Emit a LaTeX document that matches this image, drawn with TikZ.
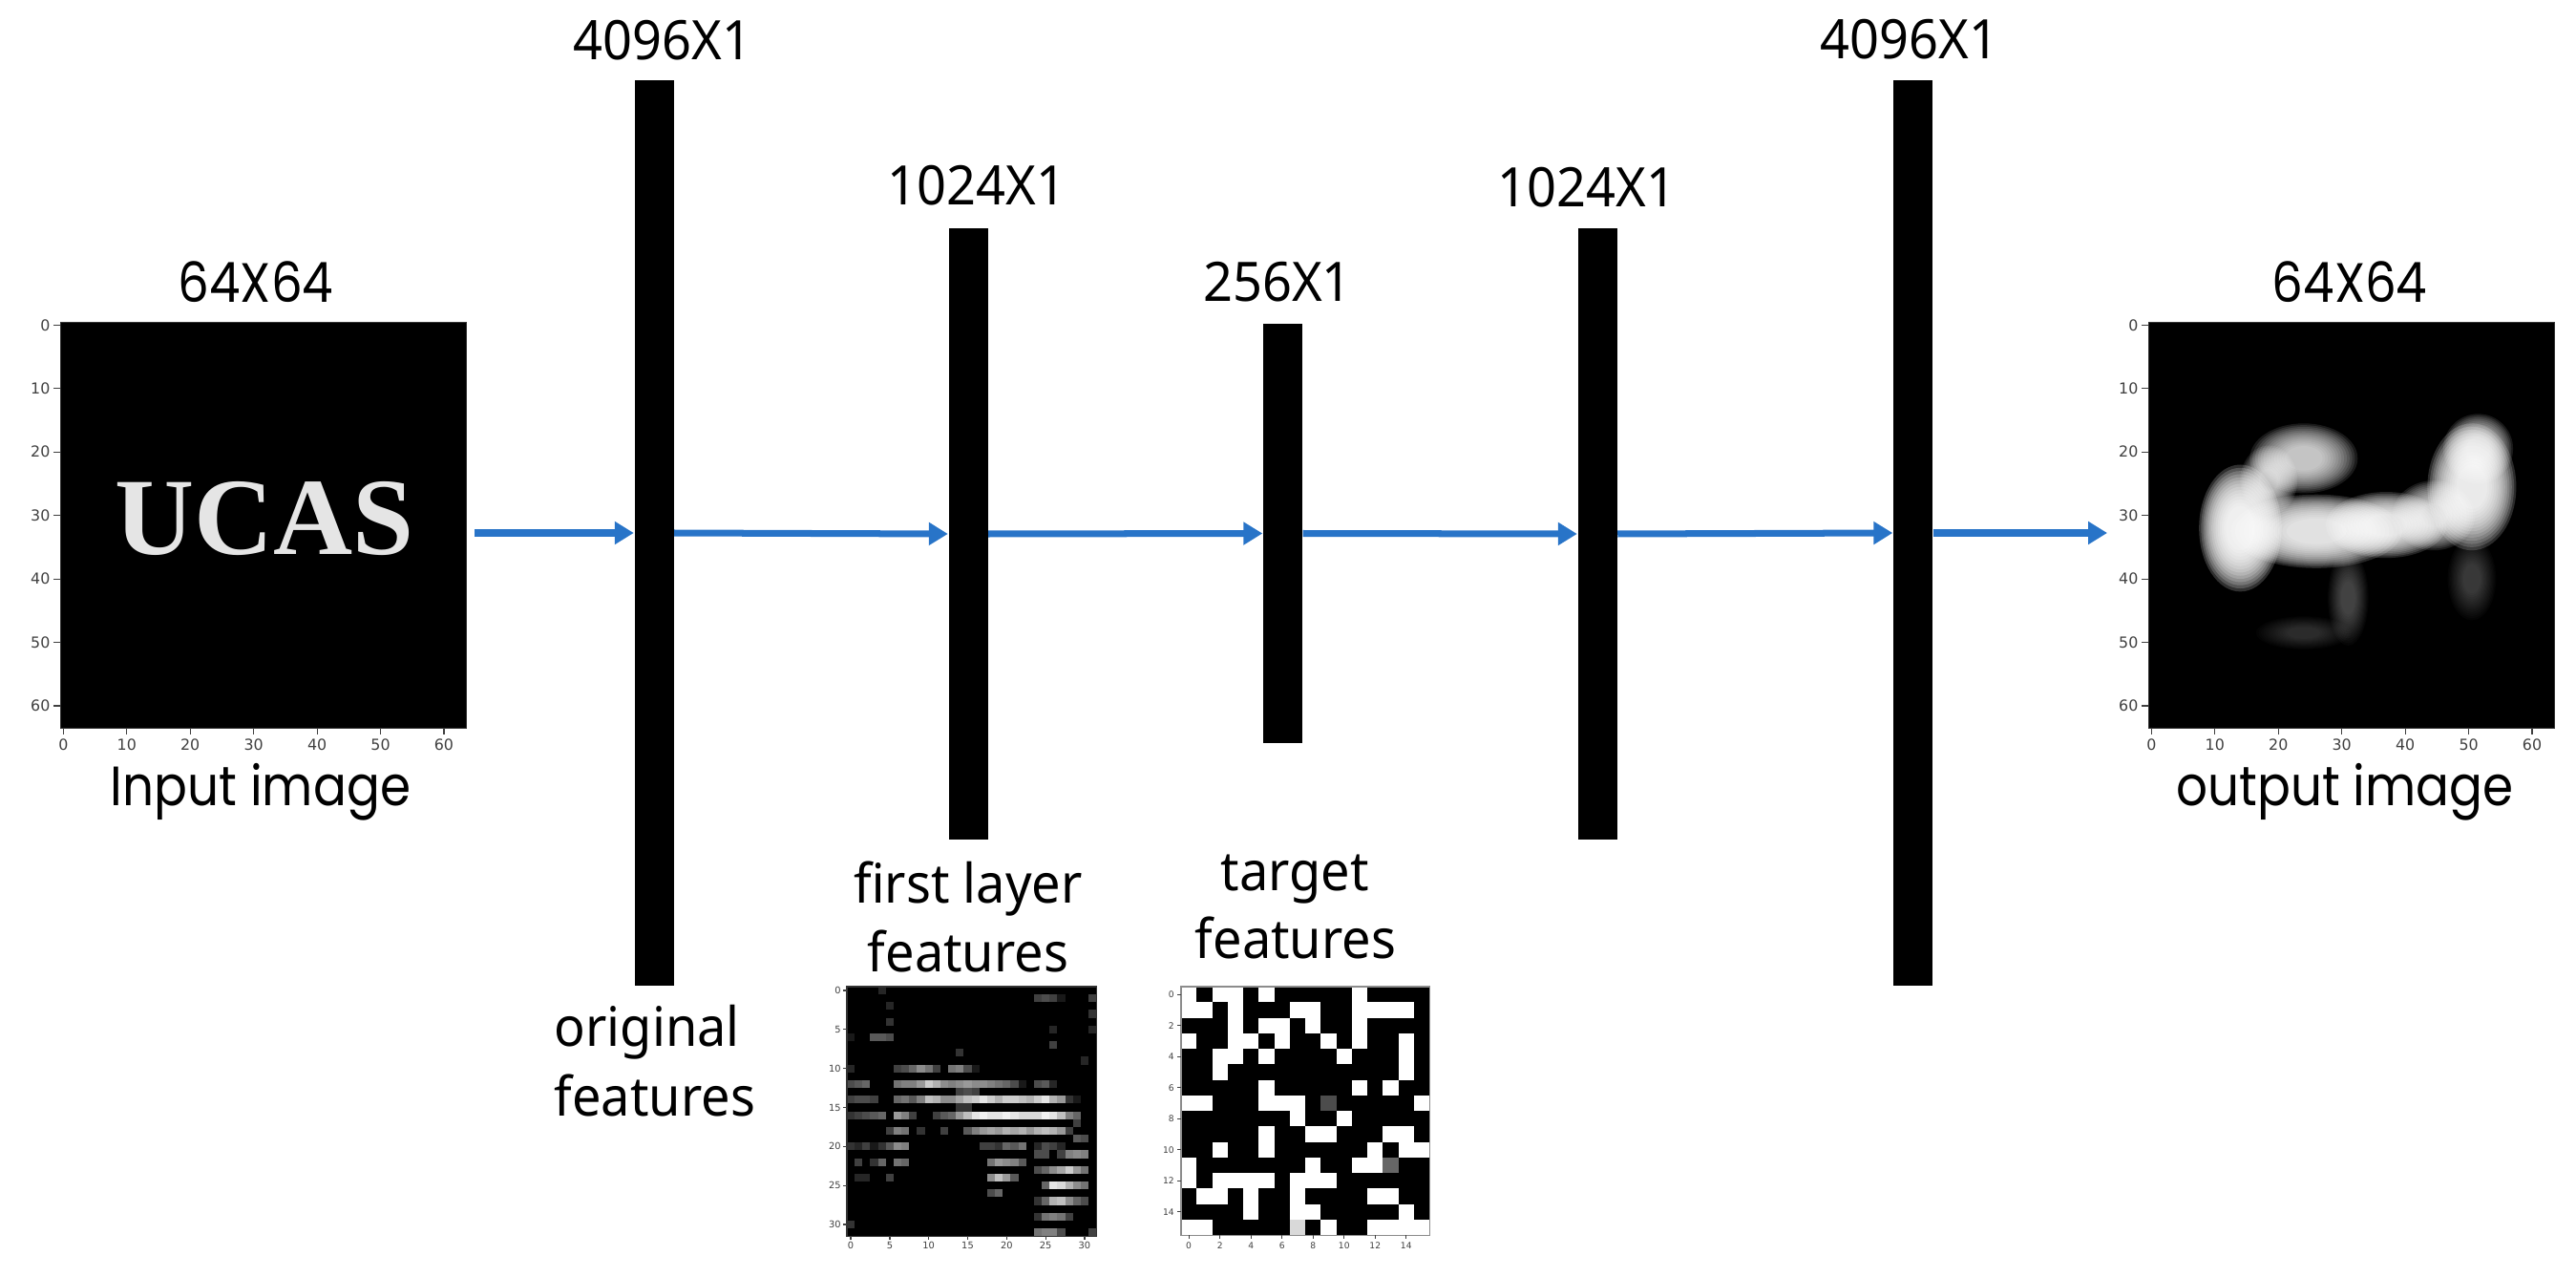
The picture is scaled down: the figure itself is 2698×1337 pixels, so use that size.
\documentclass[tikz,border=0pt]{standalone}
\usepackage{fontspec}
\usepackage{graphicx}
\usetikzlibrary{arrows.meta}
\newfontfamily\dfont[FakeStretch=0.95]{Noto Sans}
\newfontfamily\gfont[FakeStretch=0.89]{Poppins}
\newfontfamily\tfont{DejaVu Sans}
\newfontfamily\ucasfont{Liberation Serif}
\definecolor{arrowblue}{RGB}{40,116,200}
% soft blob: centre x, centre y, x radius, y radius, opacity per layer
\newcommand{\softblob}[5]{%
  \foreach \blobk in {0,1,2,3,4,5,6,7,8,9,10,11,12,13}{%
    \pgfmathsetmacro{\blobrx}{#3*(1-0.05*\blobk)}%
    \pgfmathsetmacro{\blobry}{#4*(1-0.05*\blobk)}%
    \fill[white, fill opacity=#5] (#1,#2) ellipse [x radius=\blobrx, y radius=\blobry];%
  }%
}
\tikzset{
  barbox/.style={fill=black, inner sep=0pt, minimum width=0.41cm},
  dimlab/.style={font=\dfont\fontsize{16.2}{19}\selectfont, inner sep=0pt, anchor=base},
  plab/.style={font=\gfont\fontsize{16.5}{19}\selectfont, inner sep=0pt, anchor=base},
  arr/.style={draw=arrowblue, line width=0.07cm, -{Triangle[length=0.2cm, width=0.23cm]}},
  imgbox/.style={fill=black, draw=black!80, line width=0.012cm, inner sep=0pt, anchor=north west},
  tickline/.style={draw=black!75, line width=0.012cm},
  ticklab/.style={font=\tfont\fontsize{4.5}{5}\selectfont, text=black!75, inner sep=0pt},
  ticklabs/.style={font=\tfont\fontsize{2.8}{3}\selectfont, text=black!75, inner sep=0pt},
  ticklabt/.style={font=\tfont\fontsize{2.6}{3}\selectfont, text=black!75, inner sep=0pt},
}
\begin{document}
\begin{tikzpicture}[x=0.01cm, y=-0.01cm]
\path[use as bounding box, fill=white] (0,0) rectangle (2698,1337);

% ---------------- bars ----------------
\node[barbox, minimum height=9.47cm] (b1) at (685,558) {};
\node[barbox, minimum height=6.39cm] (b2) at (1014,559) {};
\node[barbox, minimum height=4.39cm] (b3) at (1343.5,558.5) {};
\node[barbox, minimum height=6.39cm] (b4) at (1673,559) {};
\node[barbox, minimum height=9.47cm] (b5) at (2003.5,558) {};

% ---------------- bar labels ----------------
\node[dimlab] (l1) at (694,63) {4096X1};
\node[dimlab] (l2) at (1023,215) {1024X1};
\node[dimlab] (l3) at (1338,316) {256X1};
\node[dimlab] (l4) at (1662,217) {1024X1};
\node[dimlab] (l5) at (2000,62) {4096X1};

% ---------------- input image ----------------
\node[imgbox, minimum size=4.25cm] (inimg) at (63,337) {};
\begin{scope}[shift={(63,337)}, x=0.0664cm, y=-0.0664cm]
  \foreach \tk in {0,10,...,60}{
    \draw[tickline] (\tk+0.5,64) -- (\tk+0.5,65.05);
    \node[ticklab] (inx\tk) at (\tk+0.5,66.7) {\tk};
    \draw[tickline] (0,\tk+0.5) -- (-1.05,\tk+0.5);
    \node[ticklab, anchor=east] (iny\tk) at (-1.5,\tk+0.5) {\tk};
  }
  \node[font=\ucasfont\bfseries\fontsize{32.7}{36}\selectfont, text=white!90!black, anchor=base, inner sep=0pt] (ucas) at (32.15,36.6) {UCAS};
\end{scope}
\node[plab] (t1) at (268,317) {64X64};
\node[plab] (c1) at (273,843) {Input image};

% ---------------- output image ----------------
\node[imgbox, minimum size=4.25cm] (outimg) at (2250,337) {};
\begin{scope}[shift={(2250,337)}, x=0.0664cm, y=-0.0664cm]
  \begin{scope}
    \clip (0,0) rectangle (64,64);
    \begin{scope}[shift={(0.5,0.5)}]
      % faint tails
      \softblob{31}{43}{3.2}{7.5}{0.022}
      \softblob{24}{48.5}{7.5}{2.6}{0.014}
      \softblob{50.5}{40}{3.8}{6.5}{0.018}
      % upper hump
      \softblob{24}{21}{8.5}{5.5}{0.1}
      \softblob{18.5}{24.5}{4.5}{5.5}{0.09}
      % left lobe
      \softblob{14}{32}{6.5}{10}{0.19}
      % band
      \softblob{26}{32.5}{13.5}{5.8}{0.15}
      \softblob{37}{31.5}{9.5}{5.2}{0.14}
      \softblob{44.5}{30}{6.5}{5.5}{0.1}
      % right lobe
      \softblob{50.5}{25.5}{7}{10}{0.17}
      \softblob{51.5}{19.5}{5.5}{5.5}{0.1}
    \end{scope}
  \end{scope}
  \foreach \tk in {0,10,...,60}{
    \draw[tickline] (\tk+0.5,64) -- (\tk+0.5,65.05);
    \node[ticklab] (outx\tk) at (\tk+0.5,66.7) {\tk};
    \draw[tickline] (0,\tk+0.5) -- (-1.05,\tk+0.5);
    \node[ticklab, anchor=east] (outy\tk) at (-1.5,\tk+0.5) {\tk};
  }
\end{scope}
\node[plab] (t2) at (2461,317) {64X64};
\node[plab] (c2) at (2456,843) {output image};

% ---------------- arrows ----------------
\coordinate (a0) at (497,558);
\coordinate (a6) at (2207,558);
\draw[arr] (a0) -- (b1.west);
\draw[arr] (b1.east) -- (b2.west);
\draw[arr] (b2.east) -- (b3.west);
\draw[arr] (b3.east) -- (b4.west);
\draw[arr] (b4.east) -- (b5.west);
\draw[arr] (b5.east) -- (a6);

% ---------------- feature labels ----------------
\node[dimlab, anchor=base west] (o1) at (580,1095) {original};
\node[dimlab, anchor=base west] (o2) at (580,1168) {features};
\node[dimlab] (f1) at (1014,945) {first layer};
\node[dimlab] (f2) at (1014,1017) {features};
\node[dimlab] (g1) at (1356,932) {target};
\node[dimlab] (g2) at (1357,1003) {features};

% ---------------- first layer features heatmap ----------------
\node[imgbox, minimum size=2.61cm] (flf) at (887,1033) {};
\begin{scope}[shift={(887,1033)}, x=0.08156cm, y=-0.08156cm]
  \foreach \hr/\hc/\hv in {0/4/15, 1/24/25, 1/25/30, 1/26/25, 1/27/10, 1/31/25, 2/5/15, 3/31/20, 4/5/20, 5/26/15, 5/31/15,
    6/3/35, 6/4/35, 6/5/30, 6/0/10, 7/26/25, 8/14/20, 9/30/15,
    10/0/15, 10/6/25, 10/7/30, 10/8/40, 10/9/55, 10/10/45, 10/11/25, 10/13/45, 10/14/50, 10/15/30, 10/16/10,
    12/0/30, 12/1/35, 12/2/40, 12/6/45, 12/7/50, 12/8/50, 12/9/60, 12/10/80, 12/11/70, 12/12/55, 12/13/50, 12/14/55, 12/15/60, 12/16/55, 12/17/55, 12/18/50, 12/19/45, 12/20/40, 12/21/30, 12/22/10, 12/24/30, 12/25/35, 12/26/15,
    13/14/25, 13/15/30, 13/16/25,
    14/0/25, 14/1/30, 14/2/30, 14/3/25, 14/6/40, 14/7/45, 14/8/35, 14/9/50, 14/10/75, 14/11/70, 14/12/55, 14/13/55, 14/14/65, 14/15/75, 14/16/80, 14/17/90, 14/18/80, 14/19/70, 14/20/80, 14/21/80, 14/22/75, 14/23/70, 14/24/80, 14/25/90, 14/26/70, 14/27/60, 14/28/20, 14/29/10,
    15/14/20, 15/15/20,
    16/0/20, 16/1/25, 16/2/30, 16/3/35, 16/4/40, 16/6/60, 16/7/50, 16/8/25, 16/11/25, 16/12/35, 16/13/40, 16/14/60, 16/15/75, 16/16/90, 16/17/95, 16/18/90, 16/19/90, 16/20/95, 16/21/90, 16/22/85, 16/23/85, 16/24/85, 16/25/95, 16/26/90, 16/27/75, 16/28/50, 16/29/40,
    17/29/25,
    18/5/25, 18/6/50, 18/7/45, 18/9/20, 18/12/25, 18/15/35, 18/16/50, 18/17/60, 18/18/65, 18/19/60, 18/20/70, 18/21/65, 18/22/70, 18/23/60, 18/24/70, 18/25/75, 18/26/70, 18/27/60, 18/28/25,
    19/29/35, 19/30/30,
    20/0/20, 20/1/15, 20/2/25, 20/3/10, 20/4/20, 20/5/35, 20/6/55, 20/7/50, 20/17/25, 20/18/25, 20/19/20, 20/20/40, 20/21/35, 20/22/45, 20/24/15, 20/25/30, 20/26/25, 20/27/15,
    21/24/30, 21/25/30, 21/27/25, 21/28/50, 21/29/55, 21/30/50,
    22/1/25, 22/3/20, 22/4/40, 22/6/45, 22/7/40, 22/18/45, 22/19/60, 22/20/55, 22/21/50, 22/22/35,
    23/24/30, 23/25/40, 23/26/55, 23/27/65, 23/28/80, 23/29/60, 23/30/45,
    24/1/15, 24/2/15, 24/5/25, 24/18/55, 24/19/75, 24/20/60, 24/21/35,
    25/25/40, 25/26/90, 25/27/85, 25/28/70, 25/29/55, 25/30/45,
    26/18/30, 26/19/40,
    27/24/20, 27/25/40, 27/26/70, 27/27/75, 27/28/55, 27/29/40, 27/30/30,
    29/24/20, 29/25/45, 29/26/50, 29/27/45, 29/28/25,
    30/0/20,
    31/24/45, 31/25/50, 31/26/50, 31/27/30, 31/31/25}{
    \fill[white!\hv!black] (\hc,\hr) rectangle ++(1,1);
  }
  \draw[draw=black!80, line width=0.012cm] (0,0) rectangle (32,32);
  \foreach \tk in {0,5,...,30}{
    \draw[tickline] (\tk+0.5,32) -- (\tk+0.5,32.5);
    \node[ticklabs] (fx\tk) at (\tk+0.5,33.2) {\tk};
    \draw[tickline] (0,\tk+0.5) -- (-0.5,\tk+0.5);
    \node[ticklabs, anchor=east] (fy\tk) at (-0.7,\tk+0.5) {\tk};
  }
\end{scope}

% ---------------- target features grid ----------------
\node[imgbox, draw=black!45, minimum size=2.6cm] (tgf) at (1237,1033) {};
\begin{scope}[shift={(1237,1033)}, x=0.1625cm, y=-0.1625cm]
  \foreach \hrow [count=\hr from 0] in {
    {100,0,100,100,0,100,0,0,0,0,0,100,0,0,0,0},
    {100,100,0,100,0,0,0,100,100,0,0,100,100,100,100,0},
    {0,0,0,100,0,100,100,0,100,0,0,100,0,0,0,0},
    {100,0,0,100,100,0,100,0,0,100,0,100,0,0,100,0},
    {0,0,100,100,0,100,0,0,0,0,100,0,0,0,100,0},
    {0,0,100,0,0,0,0,0,0,0,0,0,0,0,100,0},
    {0,0,0,0,0,100,0,0,0,0,0,100,0,100,0,0},
    {100,100,0,0,0,100,100,100,0,30,0,0,0,0,0,100},
    {0,0,0,0,0,0,0,100,0,0,100,0,0,0,0,0},
    {0,0,0,0,0,100,0,0,100,100,0,0,0,100,100,0},
    {0,0,100,0,0,100,0,0,0,0,0,0,100,0,100,100},
    {100,0,0,0,0,0,0,0,100,0,0,100,100,40,0,0},
    {100,0,100,100,100,100,0,100,100,100,0,0,0,0,0,0},
    {0,100,100,0,100,0,0,100,0,0,0,0,100,100,0,0},
    {0,0,0,0,100,0,0,100,100,0,0,0,0,0,100,0},
    {100,100,0,0,0,0,0,85,0,100,0,0,100,100,100,100}}{
    \foreach \hv [count=\hc from 0] in \hrow {
      \fill[white!\hv!black] (\hc,\hr) rectangle ++(1,1);
    }
  }
  \draw[draw=black!45, line width=0.012cm] (0,0) rectangle (16,16);
  \foreach \tk in {0,2,...,14}{
    \draw[tickline] (\tk+0.5,16) -- (\tk+0.5,16.25);
    \node[ticklabt] (tx\tk) at (\tk+0.5,16.7) {\tk};
    \draw[tickline] (0,\tk+0.5) -- (-0.25,\tk+0.5);
    \node[ticklabt, anchor=east] (ty\tk) at (-0.4,\tk+0.5) {\tk};
  }
\end{scope}
\end{tikzpicture}
\end{document}
